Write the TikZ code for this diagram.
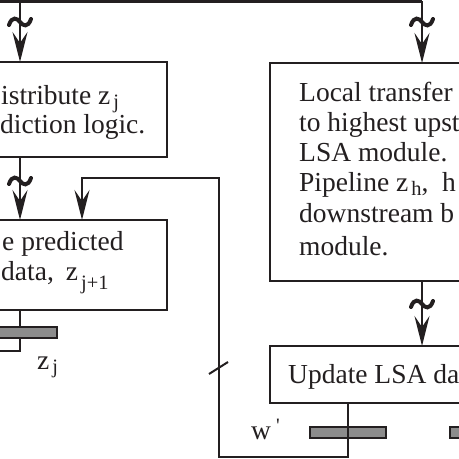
\documentclass[tikz,border=0pt]{standalone}
\usepackage{fontspec}
\setmainfont{Liberation Serif}
\usetikzlibrary{arrows.meta}
\newcommand{\sbj}[2][-4bp]{\kern3bp\raisebox{#1}{\fontsize{20.5}{20.5}\selectfont #2}}
\definecolor{ink}{HTML}{231F20}
\definecolor{barfill}{HTML}{8C8C8C}
\begin{document}
\begin{tikzpicture}[x=1bp,y=-1bp,
  ln/.style={line width=2.8bp, draw=ink},
  box/.style={ln, rectangle, outer sep=0pt, inner sep=0pt},
  arr/.style={ln,-{Stealth[length=30bp,width=15bp,inset=11bp]}},
  txt/.style={anchor=base west, inner sep=0pt, text=ink, font=\fontsize{27.6}{30}\selectfont},
  bar/.style={draw=ink, line width=2bp, fill=barfill},
  tld/.pic={\draw[line width=4bp, line cap=round, draw=ink] (-11,3) .. controls (-8,-6) and (-3,-4) .. (0,0) .. controls (3,4) and (8,6) .. (11,-3);}
]
\useasboundingbox (0,0) rectangle (459,459);

% boxes
\node[box, minimum width=227bp, minimum height=95bp] (b1) at (53.5,109.5) {};
\node[box, minimum width=227bp, minimum height=90bp] (b2) at (53.5,265) {};
\node[box, minimum width=250bp, minimum height=218bp] (b3) at (395,172) {};
\node[box, minimum width=250bp, minimum height=57bp] (b4) at (395,374.5) {};

% texts
\node[txt] (t1a) at (1,105) {istribute z\sbj{j}};
\node[txt] (t1b) at (0,134) {diction logic.};
\node[txt] (t2a) at (2,250) {e predicted};
\node[txt] (t2b) at (1,280) {data,\hspace{12bp}z\sbj[-9bp]{j+1}};
\node[txt] (t3a) at (299,102) {Local transfer};
\node[txt] (t3b) at (299,132) {to highest upst};
\node[txt] (t3c) at (299,162) {LSA module.};
\node[txt] (t3d) at (299,192) {Pipeline z\sbj{h},\ \ h};
\node[txt] (t3e) at (299,223) {downstream b};
\node[txt] (t3f) at (299,255) {module.};
\node[txt] (t4) at (288,383) {Update LSA da};
\node[txt] (lz) at (37,369) {z\sbj{j}};
\node[txt] (lw) at (251,439) {w\hspace{5bp}\raisebox{7bp}{\fontsize{20.5}{20.5}\selectfont\textquotesingle}};

% coordinates
\coordinate (tl) at (-5,1.5);
\coordinate (tr) at (422,1.5);
\coordinate (al) at (20,1.5);
\coordinate (zs) at (20,351);
\coordinate (ze) at (-5,351);
\coordinate (f1) at (348,457);
\coordinate (f2) at (219,457);
\coordinate (f3) at (219,178);
\coordinate (f4) at (82,178);
\coordinate (s1) at (209,374);
\coordinate (s2) at (228,362);

% top line and arrows
\draw[ln] (tl) -- (tr);
\draw[arr] (al) -- (al |- b1.north);
\draw[arr] (tr) -- (tr |- b3.north);
\draw[arr] (al |- b1.south) -- (al |- b2.north);
\draw[arr] (tr |- b3.south) -- (tr |- b4.north);
\pic at (20,22) {tld};
\pic at (422,22) {tld};
\pic at (20,181) {tld};
\pic at (422,304) {tld};

% output of box 2 to z_j store
\draw[ln, line join=miter] (al |- b2.south) -- (zs) -- (ze);
\node[bar, minimum width=67bp, minimum height=11bp, inner sep=0pt] (bz) at (23.5,332.5) {};

% w' store and feedback
\node[bar, minimum width=76bp, minimum height=11bp, inner sep=0pt] (bw) at (348,432.5) {};
\node[bar, minimum width=30bp, minimum height=11bp, inner sep=0pt] (bx) at (465,432.5) {};
\draw[arr, line join=miter] (f1 |- b4.south) -- (f1) -- (f2) -- (f3) -- (f4) -- (f4 |- b2.north);
\draw[line width=2bp, draw=ink] (s1) -- (s2);
\end{tikzpicture}
\end{document}
